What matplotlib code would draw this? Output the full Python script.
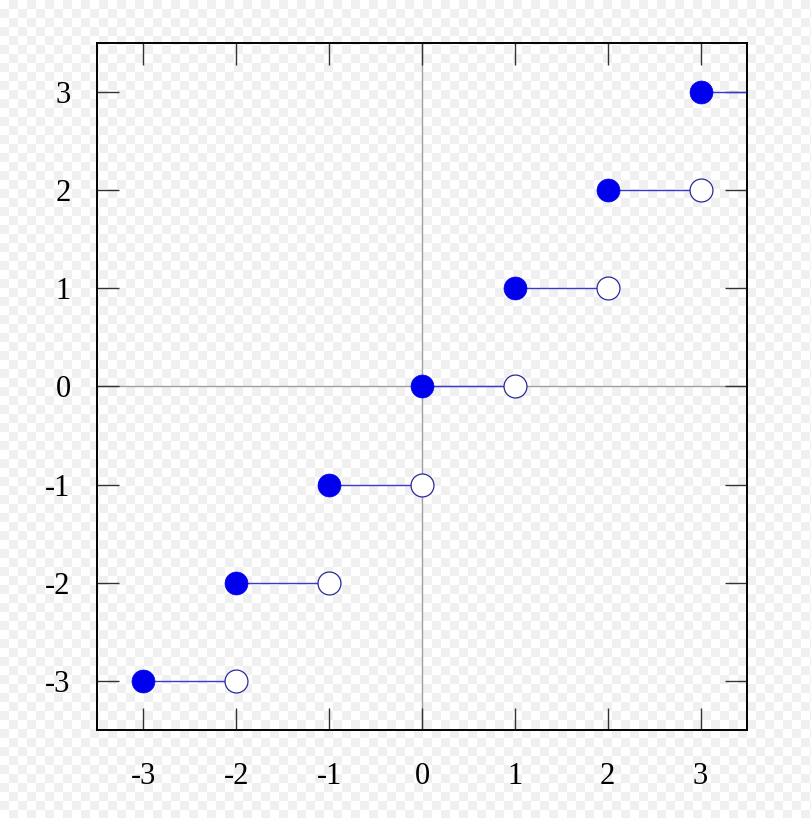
import matplotlib
matplotlib.use("Agg")
import matplotlib.pyplot as plt
import numpy as np

# Ступенчатая функция floor(x): закрашенная точка слева, пустая справа
x_start = [-3, -2, -1, 0, 1, 2, 3]
x_end = [-2, -1, 0, 1, 2, 3, 4]
y_vals = [-3, -2, -1, 0, 1, 2, 3]
ticks = [-3, -2, -1, 0, 1, 2, 3]

plt.rcParams["font.family"] = ["Liberation Serif", "DejaVu Serif"]
plt.rcParams["axes.unicode_minus"] = False

fig = plt.figure(figsize=(8.11, 8.18), dpi=100)

# фон "шахматка" как у прозрачного изображения
h, w = 818, 811
cell = 9
yy, xx = np.mgrid[0:h, 0:w]
board = ((yy // cell + xx // cell) % 2).astype(float)
img = np.where(board[..., None] > 0, 0.945, 1.0) * np.ones((h, w, 3))
fig.figimage(img, 0, 0, zorder=-10)

ax = fig.add_axes([97 / 811, 1 - 730 / 818, 650 / 811, 687 / 818])
ax.set_facecolor("none")
fig.patch.set_alpha(0)

ax.axhline(0, color="#a0a0a0", lw=1.0, zorder=1)
ax.axvline(0, color="#a0a0a0", lw=1.0, zorder=1)

for x0, x1, y in zip(x_start, x_end, y_vals):
    ax.plot([x0, x1], [y, y], color="#3a3ad0", lw=1.0, zorder=2)

ax.plot(x_end, y_vals, "o", ms=16.5, mfc="white", mec="#2a2a9a", mew=0.9, zorder=3)
ax.plot(x_start, y_vals, "o", ms=16.5, mfc="#0000ee", mec="#0000ee", mew=0.5, zorder=4)

ax.set_xlim(-3.5, 3.5)
ax.set_ylim(-3.5, 3.5)
ax.set_xticks(ticks)
ax.set_yticks(ticks)
ax.tick_params(axis="both", direction="in", length=15.5, width=1.0, color="#333333",
               top=True, right=True, labelsize=22)
ax.tick_params(axis="x", pad=23)
ax.tick_params(axis="y", pad=19)

for s in ax.spines.values():
    s.set_linewidth(1.4)
    s.set_color("black")

fig.savefig("out.png", dpi=100)
